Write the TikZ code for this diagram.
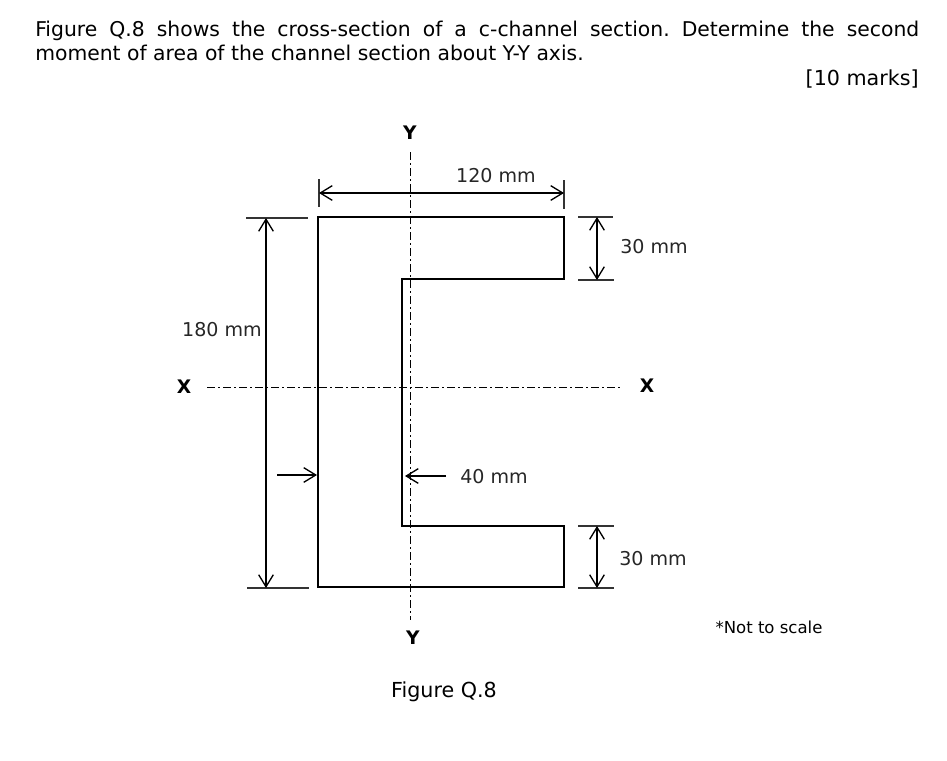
\documentclass[tikz,border=0pt]{standalone}
\usepackage{fontspec}
\setmainfont{DejaVu Sans}
\usetikzlibrary{arrows.meta}
\tikzset{
  outline/.style={line width=1.15pt,line join=miter,draw=black},
  dimline/.style={line width=1pt,{Straight Barb[length=9pt,width=11pt,line width=1pt]}-{Straight Barb[length=9pt,width=11pt,line width=1pt]}},
  onehead/.style={line width=1pt,-{Straight Barb[length=9pt,width=11pt,line width=1pt]}},
  tickline/.style={line width=0.85pt,draw=black!80},
  axisline/.style={line width=0.7pt,dash pattern=on 6pt off 2.4pt on 1.2pt off 2.4pt},
  lab/.style={inner sep=0pt,font=\fontsize{14.3pt}{16pt}\selectfont,text=black!85},
  axlab/.style={inner sep=0pt,font=\fontsize{14pt}{15pt}\selectfont\bfseries},
  bodytext/.style={inner sep=0pt,anchor=north west,text width=663pt,align=justify,font=\fontsize{15.25pt}{18pt}\selectfont\frenchspacing}
}
\begin{document}
\begin{tikzpicture}[x=0.75pt,y=-0.75pt]
\useasboundingbox (0,0) rectangle (947,761);
\node[bodytext] (body) at (35,21) {Figure Q.8 shows the cross-section of a c-channel section. Determine the second\linebreak moment of area of the channel section about Y-Y axis.};
\node[inner sep=0pt,anchor=east,font=\fontsize{15.5pt}{18pt}\selectfont] (marks) at (919,79) {[10 marks]};

\coordinate (a) at (318,217);
\coordinate (b) at (564,217);
\coordinate (c) at (564,279);
\coordinate (d) at (402,279);
\coordinate (e) at (402,526);
\coordinate (f) at (564,526);
\coordinate (g) at (564,587);
\coordinate (h) at (318,587);

\coordinate (xl) at (207,387);
\coordinate (xr) at (620,387);
\coordinate (yt) at (410,152);
\coordinate (yb) at (410,620);
\draw[axisline] (xl) -- (xr);
\draw[axisline] (yt) -- (yb);

\draw[outline] (a) -- (b) -- (c) -- (d) -- (e) -- (f) -- (g) -- (h) -- cycle;

% 120 mm
\coordinate (t1a) at (319,179); \coordinate (t1b) at (319,207);
\coordinate (t2a) at (564,180); \coordinate (t2b) at (564,209);
\coordinate (w1) at (319,193); \coordinate (w2) at (564,193);
\draw[tickline] (t1a) -- (t1b);
\draw[tickline] (t2a) -- (t2b);
\draw[dimline] (w1) -- (w2);

% 180 mm
\coordinate (h1a) at (246,218); \coordinate (h1b) at (308,218);
\coordinate (h2a) at (247,588); \coordinate (h2b) at (309,588);
\coordinate (v1) at (266,218); \coordinate (v2) at (266,588);
\draw[tickline] (h1a) -- (h1b);
\draw[tickline] (h2a) -- (h2b);
\draw[dimline] (v1) -- (v2);

% upper 30 mm
\coordinate (u1a) at (578,217); \coordinate (u1b) at (613,217);
\coordinate (u2a) at (578,280); \coordinate (u2b) at (614,280);
\coordinate (u1) at (597,217); \coordinate (u2) at (597,280);
\draw[tickline] (u1a) -- (u1b);
\draw[tickline] (u2a) -- (u2b);
\draw[dimline] (u1) -- (u2);

% lower 30 mm
\coordinate (l1a) at (578,526); \coordinate (l1b) at (614,526);
\coordinate (l2a) at (578,588); \coordinate (l2b) at (614,588);
\coordinate (l1) at (597,526); \coordinate (l2) at (597,588);
\draw[tickline] (l1a) -- (l1b);
\draw[tickline] (l2a) -- (l2b);
\draw[dimline] (l1) -- (l2);

% 40 mm
\coordinate (p1) at (277,475); \coordinate (p2) at (317,475);
\coordinate (q1) at (446,476); \coordinate (q2) at (405,476);
\draw[onehead] (p1) -- (p2);
\draw[onehead] (q1) -- (q2);

\node[axlab] (ytop) at (410,133) {Y};
\node[axlab] (ybot) at (413,638) {Y};
\node[axlab] (xleft) at (184,387) {X};
\node[axlab] (xright) at (647,386) {X};
\node[lab] (l120) at (496,176) {120 mm};
\node[lab] (l180) at (222,330) {180 mm};
\node[lab] (l30a) at (654,247) {30 mm};
\node[lab] (l30b) at (653,559) {30 mm};
\node[lab] (l40) at (494,477) {40 mm};
\node[inner sep=0pt,font=\fontsize{12.4pt}{15pt}\selectfont] (nts) at (769,627) {*Not to scale};
\node[inner sep=0pt,font=\fontsize{15.5pt}{18pt}\selectfont] (cap) at (444,692) {Figure Q.8};
\end{tikzpicture}
\end{document}
